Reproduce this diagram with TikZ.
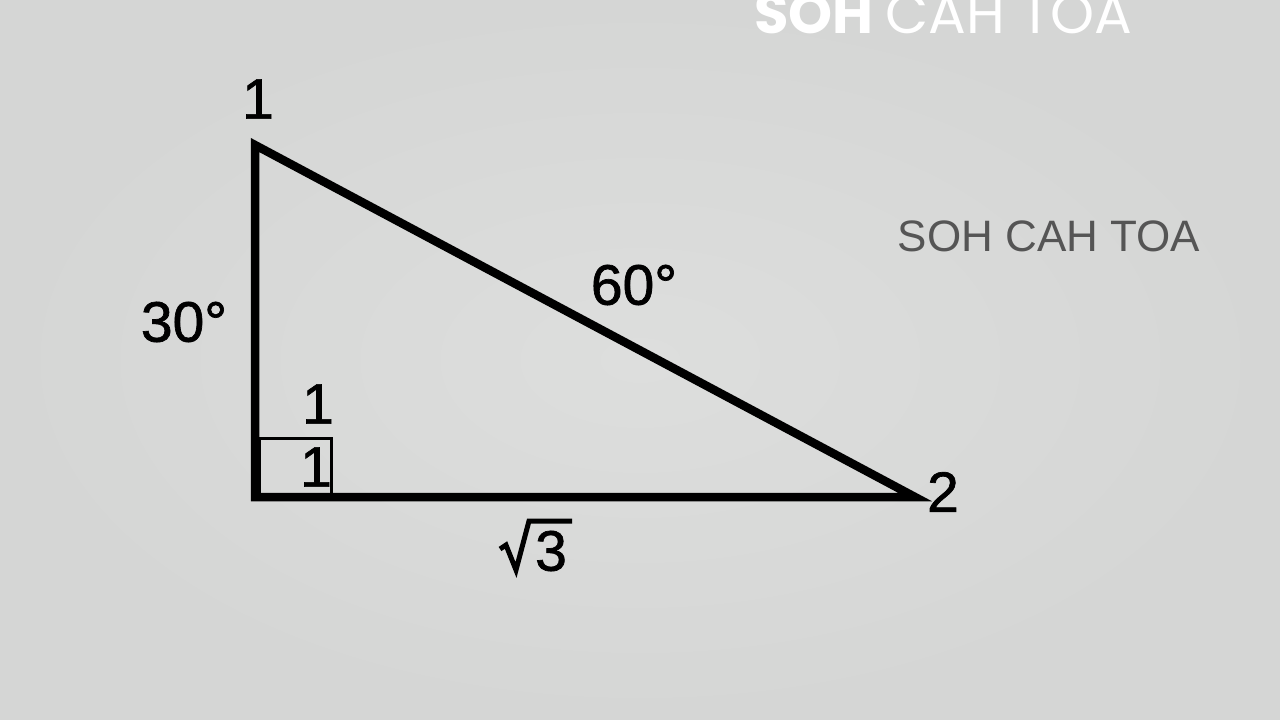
\documentclass[tikz,border=0pt]{standalone}
\usepackage{fontspec}
\setmainfont{Liberation Sans}
\newfontfamily\lblfont[FakeBold=1.2]{Liberation Sans}
\newfontfamily\titlefont{Poppins}
\definecolor{bg}{RGB}{221,222,221}
\definecolor{bgedge}{RGB}{213,214,213}
\definecolor{sohgray}{RGB}{85,85,85}
\begin{document}
\begin{tikzpicture}[x=1pt,y=-1pt,
  lbl/.style={font=\lblfont\fontsize{57}{62}\selectfont, text=black, inner sep=0pt},
  side/.style={line width=8.5pt, line join=miter, black},
  rbox/.style={line width=3pt, black},
  radical/.style={line width=5pt, black, line join=miter}]
\shade[inner color=bg, outer color=bgedge] (0,0) rectangle (1280,720);
\useasboundingbox (0,0) rectangle (1280,720);
\coordinate (A) at (255,145);
\coordinate (B) at (255,497);
\coordinate (C) at (915,497);
\draw[side] (A) -- (B) -- (C) -- cycle;
\coordinate (R1) at (259,438);
\coordinate (R2) at (331,494);
\draw[rbox] (R1) rectangle (R2);
\node[lbl] (ltop) at (258,99) {1};
\node[lbl] (l30) at (184,322) {30°};
\node[lbl] (l60) at (634,285) {60°};
\node[lbl] (lbox1) at (318,404) {1};
\node[lbl] (lbox2) at (316,467) {1};
\node[lbl] (l2) at (943,492) {2};
\node[lbl] (lsq) at (551,551) {3};
\coordinate (q1) at (500,549);
\coordinate (q2) at (506,545);
\coordinate (q3) at (516,570);
\coordinate (q4) at (529,521);
\coordinate (q5) at (572,521);
\draw[radical] (q1) -- (q2) -- (q3) -- (q4) -- (q5);
\node[font=\fontsize{44}{48}\selectfont, text=sohgray, inner sep=0pt] (soh) at (1049,236) {SOH CAH TOA};
\node[font=\fontsize{56}{60}\selectfont, text=white, inner sep=0pt, anchor=base west] (title) at (754,34) {\titlefont\bfseries SOH \mdseries CAH TOA};
\end{tikzpicture}
\end{document}
